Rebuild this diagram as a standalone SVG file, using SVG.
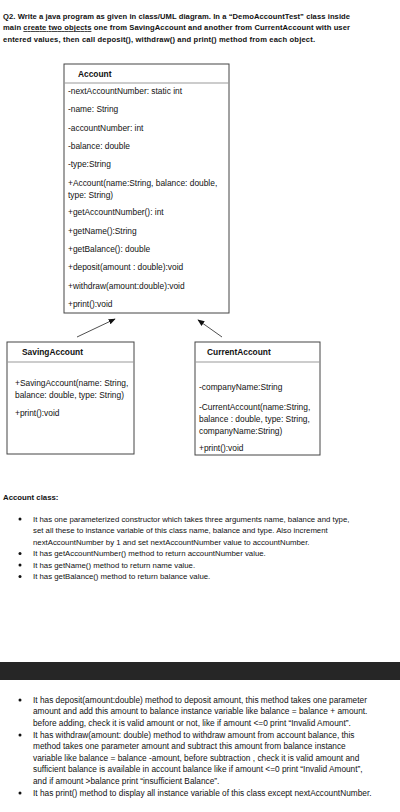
<svg xmlns="http://www.w3.org/2000/svg" width="400" height="812" viewBox="0 0 400 812">
<defs>
<style>
text{font-family:"Liberation Sans",Arial,sans-serif;font-size:7.8px;fill:#111}
.u text{font-size:8.4px}
.n2 text{font-size:8.3px}
.b{font-weight:bold}
.q{font-size:7.6px;font-weight:bold}
.box{fill:#fff;stroke:#444;stroke-width:1}
.sep{stroke:#999;stroke-width:1}
.con{stroke:#222;stroke-width:0.8;fill:none}
.dot{fill:#111}
</style>
<marker id="ah" viewBox="0 0 10 10" refX="9" refY="5" markerWidth="7" markerHeight="7" orient="auto" markerUnits="userSpaceOnUse">
<path d="M0,1 L10,5 L0,9 z" fill="#111"/>
</marker>
</defs>
<rect width="400" height="812" fill="#fff"/>

<g id="question">
<text x="3" y="18.5" class="q" textLength="347">Q2.  Write a java program as given in class/UML diagram. In a “DemoAccountTest” class inside</text>
<text x="3" y="30" class="q" textLength="347">main <tspan text-decoration="underline">create two objects</tspan> one from SavingAccount and another from CurrentAccount with user</text>
<text x="3" y="41.5" class="q" textLength="312">entered values, then call deposit(), withdraw() and print() method from each object.</text>
</g>

<g id="account" class="u">
<rect class="box" x="64" y="64" width="165" height="249"/>
<line class="sep" x1="64" y1="83" x2="229" y2="83"/>
<text x="78" y="77" class="b">Account</text>
<text x="68" y="94">-nextAccountNumber: static int</text>
<text x="68" y="112">-name: String</text>
<text x="68" y="131">-accountNumber: int</text>
<text x="68" y="149">-balance: double</text>
<text x="68" y="167">-type:String</text>
<text x="68" y="186">+Account(name:String, balance: double,</text>
<text x="68" y="197.5">type: String)</text>
<text x="68" y="215">+getAccountNumber(): int</text>
<text x="68" y="234">+getName():String</text>
<text x="68" y="252">+getBalance(): double</text>
<text x="68" y="270">+deposit(amount : double):void</text>
<text x="68" y="289">+withdraw(amount:double):void</text>
<text x="68" y="307">+print():void</text>
</g>

<g id="savingaccount" class="u">
<rect class="box" x="7" y="342" width="127" height="112"/>
<line class="sep" x1="7" y1="362" x2="134" y2="362"/>
<text x="22" y="355" class="b">SavingAccount</text>
<text x="15" y="386">+SavingAccount(name: String,</text>
<text x="15" y="398">balance: double, type: String)</text>
<text x="15" y="416">+print():void</text>
</g>

<g id="currentaccount" class="u">
<rect class="box" x="195" y="342" width="125" height="113"/>
<line class="sep" x1="195" y1="362" x2="320" y2="362"/>
<text x="207" y="355" class="b">CurrentAccount</text>
<text x="199" y="390">-companyName:String</text>
<text x="199" y="410">-CurrentAccount(name:String,</text>
<text x="199" y="422">balance : double, type: String,</text>
<text x="199" y="434">companyName:String)</text>
<text x="199" y="451">+print():void</text>
</g>

<g id="connectors">
<line class="con" x1="77" y1="337" x2="115" y2="319" marker-end="url(#ah)"/>
<line class="con" x1="222" y1="337" x2="198" y2="320" marker-end="url(#ah)"/>
</g>

<g id="notes">
<text x="3" y="500" class="b">Account class:</text>
<circle class="dot" cx="20" cy="519" r="1.5"/>
<text x="33" y="521.5">It has one parameterized constructor which takes three arguments name, balance and type,</text>
<text x="33" y="533">set all these to instance variable of this class name, balance and type. Also increment</text>
<text x="33" y="544.5">nextAccountNumber by 1 and set nextAccountNumber value to accountNumber.</text>
<circle class="dot" cx="20" cy="553.5" r="1.5"/>
<text x="33" y="556">It has getAccountNumber() method to return accountNumber value.</text>
<circle class="dot" cx="20" cy="565" r="1.5"/>
<text x="33" y="567.5">It has getName() method to return name value.</text>
<circle class="dot" cx="20" cy="576.5" r="1.5"/>
<text x="33" y="579">It has getBalance() method to return balance value.</text>
</g>

<rect id="band" x="0" y="662" width="400" height="18" fill="#262626"/>

<g id="notes2" class="n2">
<circle class="dot" cx="20" cy="700" r="1.5"/>
<text x="33" y="702.5">It has deposit(amount:double) method to deposit amount, this method takes one parameter</text>
<text x="33" y="714">amount and add this amount to balance instance variable like balance = balance + amount.</text>
<text x="33" y="725.5">before adding, check it is valid amount or not, like  if amount &lt;=0 print “Invalid Amount”.</text>
<circle class="dot" cx="20" cy="735" r="1.5"/>
<text x="33" y="737.5">It has withdraw(amount: double) method to withdraw amount from account balance, this</text>
<text x="33" y="749">method takes one parameter amount and subtract this amount from balance instance</text>
<text x="33" y="760.5">variable like balance = balance -amount, before subtraction , check it is valid amount and</text>
<text x="33" y="772">sufficient balance is available in account balance like if amount &lt;=0 print “Invalid Amount”,</text>
<text x="33" y="783.5">and if amount &gt;balance print “insufficient Balance”.</text>
<circle class="dot" cx="20" cy="793" r="1.5"/>
<text x="33" y="795.5">It has print() method to display all instance variable of this class except nextAccountNumber.</text>
</g>
</svg>
